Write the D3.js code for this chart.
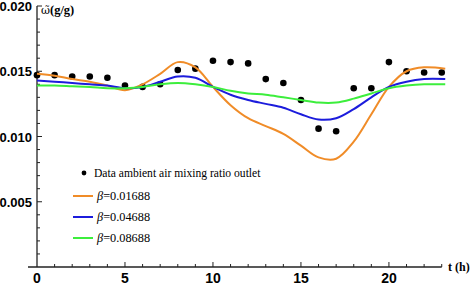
<!doctype html>
<html lang="en">
<head>
<meta charset="utf-8">
<title>Mixing ratio outlet</title>
<script src="https://cdnjs.cloudflare.com/ajax/libs/d3/7.8.5/d3.min.js"></script>
<style>
  body { margin: 0; background: #fff; }
  .tick-label { font-family: "Liberation Sans", Arial, sans-serif; font-weight: bold; font-size: 13px; }
  .serif { font-family: "Liberation Serif", "Times New Roman", serif; }
</style>
</head>
<body>
<svg id="svg" width="474" height="285"></svg>
<script>
// measured points (hours, g/g)
var dataT = [0,1,2,3,4,5,6,7,8,9,10,11,12,13,14,15,16,17,18,19,20,21,22,23];
var dataW = [0.0147,0.0147,0.0146,0.0146,0.0145,0.0139,0.0138,0.0140,0.0151,0.0152,0.0158,0.0157,
             0.0156,0.0144,0.0141,0.0128,0.0106,0.0104,0.0137,0.0137,0.0157,0.0150,0.0149,0.0149];

// model curves, sampled along t
var curveT = [0,1,2,3,4,5,6,7,8,9,10,11,12,13,14,15,16,17,18,19,20,21,22,23.2];
var orange = [0.0148,0.01465,0.0144,0.0142,0.0139,0.01355,0.0140,0.0148,0.0157,0.0153,0.0138,0.0124,
              0.0114,0.0108,0.0102,0.0093,0.0084,0.0083,0.0096,0.0117,0.0138,0.0150,0.0153,0.0152];
var blue   = [0.0143,0.0142,0.0141,0.0140,0.0139,0.0137,0.0138,0.0142,0.0146,0.0145,0.0138,0.0132,
              0.0128,0.0125,0.0122,0.0117,0.0113,0.0114,0.0121,0.0130,0.0138,0.0142,0.0144,0.0144];
var green  = [0.0139,0.0139,0.01385,0.0138,0.0137,0.0137,0.0138,0.0140,0.0141,0.0140,0.0138,0.0135,
              0.0133,0.0132,0.0130,0.0128,0.0126,0.0126,0.0129,0.0133,0.0137,0.0139,0.0140,0.0140];

var betas = ["0.01688","0.04688","0.08688"];
var colors = ["#f08c28","#1c1cdc","#3cee3c"];
var xTicks = [0,5,10,15,20];
var yTicks = [0,0.005,0.010,0.015,0.020];

var svg = d3.select('#svg');

var x = d3.scaleLinear().domain([0, 23.3]).range([37, 447]);
var y = d3.scaleLinear().domain([0, 0.020]).range([267, 6]);

// x axis
var gx = svg.append('g').attr('transform', 'translate(0,' + y(0) + ')');
gx.append('line').attr('x1', 28).attr('x2', x(23)).attr('stroke', '#222').attr('stroke-width', 1.3);
gx.selectAll('.minor').data(d3.range(1, 24)).enter().append('line')
  .attr('x1', d => x(d)).attr('x2', d => x(d))
  .attr('y1', 0).attr('y2', d => d % 5 === 0 ? -5 : -3)
  .attr('stroke', '#222');
gx.selectAll('text').data(xTicks).enter().append('text')
  .attr('class', 'tick-label')
  .attr('x', d => x(d)).attr('y', 16)
  .attr('text-anchor', 'middle')
  .style('font-size', '14px')
  .text(d => d);
svg.append('text').attr('class', 'serif')
  .attr('x', 448).attr('y', y(0) + 4)
  .style('font-size', '12px').style('font-weight', 'bold')
  .text('t (h)');

// y axis
var gy = svg.append('g').attr('transform', 'translate(' + x(0) + ',0)');
gy.append('line').attr('y1', y(0)).attr('y2', y(0.020)).attr('stroke', '#222').attr('stroke-width', 1.3);
gy.selectAll('.minor').data(d3.range(1, 21)).enter().append('line')
  .attr('y1', d => y(d * 0.001)).attr('y2', d => y(d * 0.001))
  .attr('x1', 0).attr('x2', d => d % 5 === 0 ? 5 : 3)
  .attr('stroke', '#222');
gy.selectAll('text').data(yTicks.slice(1)).enter().append('text')
  .attr('class', 'tick-label')
  .attr('x', -5).attr('y', d => y(d) + 5)
  .attr('text-anchor', 'end')
  .text(d3.format('.3f'));
var ylab = svg.append('text').attr('class', 'serif')
  .attr('x', 41).attr('y', 14)
  .style('font-size', '12.5px').style('font-weight', 'bold');
ylab.append('tspan').style('font-family', '"DejaVu Serif", serif').style('font-size', '11px')
  .style('font-weight', 'normal').text('\u03C9\u0303');
ylab.append('tspan').text('(g/g)');

// data points (under the curves)
svg.append('g').selectAll('circle')
  .data(dataT.map((t, j) => [t, dataW[j]]))
  .enter().append('circle')
  .attr('cx', d => x(d[0])).attr('cy', d => y(d[1]))
  .attr('r', 3.3).attr('fill', '#000');

// curves
var line = d3.line()
  .x(d => x(d[0]))
  .y(d => y(d[1]))
  .curve(d3.curveCatmullRom.alpha(0.5));

[orange, blue, green].forEach(function(series, i) {
  svg.append('path')
    .datum(curveT.map((t, j) => [t, series[j]]))
    .attr('d', line)
    .attr('fill', 'none')
    .attr('stroke', colors[i])
    .attr('stroke-width', 2);
});

// legend
var lg = svg.append('g').attr('class', 'serif').style('font-size', '11.6px');
lg.append('circle').attr('cx', 84).attr('cy', 173).attr('r', 2.4).attr('fill', '#000');
lg.append('text').attr('x', 94).attr('y', 177).text('Data ambient air mixing ratio outlet');
betas.forEach(function(b, i) {
  var yy = 196 + i * 21;
  lg.append('line').attr('x1', 73).attr('x2', 93).attr('y1', yy).attr('y2', yy)
    .attr('stroke', colors[i]).attr('stroke-width', 2);
  var t = lg.append('text').attr('x', 97).attr('y', yy + 4).style('font-size', '12.3px');
  t.append('tspan').style('font-style', 'italic').text('\u03B2');
  t.append('tspan').text('=' + b);
});
</script>
</body>
</html>
